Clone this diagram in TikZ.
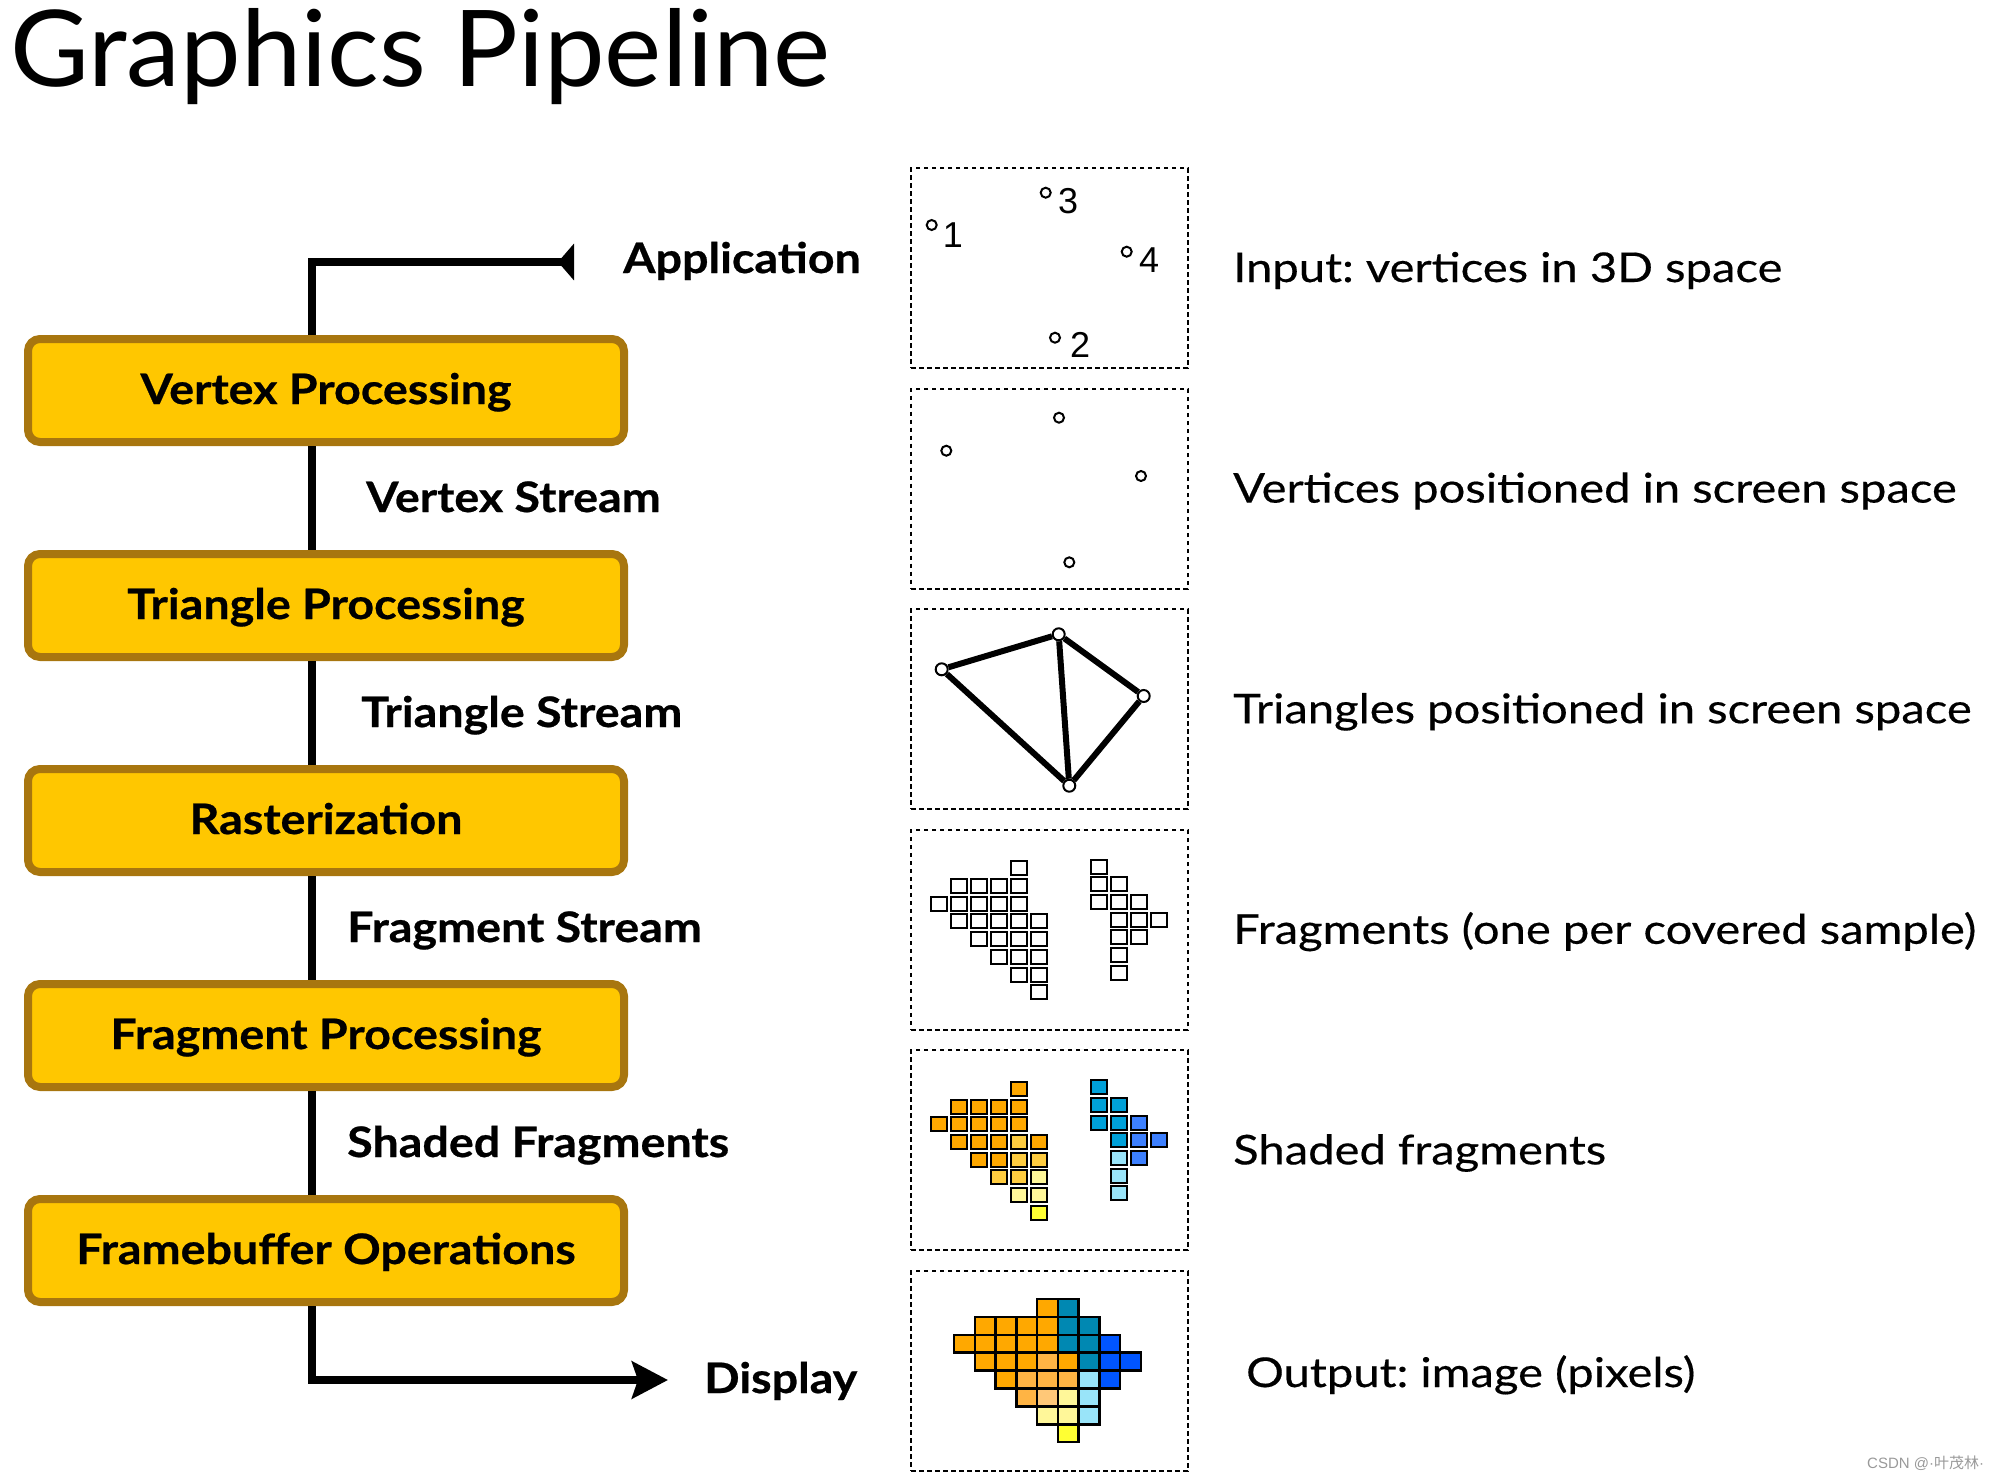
\documentclass[tikz,border=0pt]{standalone}
\usepackage{fontspec}
\setmainfont{Lato}
\newfontfamily\heavyfont{Lato}[FakeStretch=1.11, BoldFeatures={FakeBold=0.6}]
\newfontfamily\descfont{Lato}[FakeStretch=1.15, FakeBold=0.4]
\newfontfamily\titlefont{Lato}[FakeStretch=1.02]
\newfontfamily\digitfont{Liberation Sans}
\newfontfamily\cjkfont{Noto Sans CJK SC}
\usetikzlibrary{arrows.meta}
\frenchspacing
\definecolor{boxfill}{HTML}{FFC700}
\definecolor{boxline}{HTML}{A8760F}
\definecolor{cO}{HTML}{FFA800}
\definecolor{cL}{HTML}{FFCC40}
\definecolor{cP}{HTML}{FFF799}
\definecolor{cY}{HTML}{FFFF33}
\definecolor{cT}{HTML}{00A0D8}
\definecolor{cB}{HTML}{3D80FF}
\definecolor{cC}{HTML}{99E4F9}
\definecolor{oL}{HTML}{FFB444}
\definecolor{oP}{HTML}{FFC878}
\definecolor{oT}{HTML}{0088B2}
\definecolor{oB}{HTML}{0055FF}
\tikzset{
  stage/.style={draw=boxline, fill=boxfill, line width=8pt, rounded corners=12pt,
    minimum width=596pt, minimum height=103pt, inner sep=0pt,
    text height=32pt, text depth=5pt,
    font=\heavyfont\fontsize{42}{50}\selectfont\bfseries},
  lab/.style={inner sep=0pt, anchor=base west, font=\heavyfont\fontsize{42}{50}\selectfont\bfseries},
  desc/.style={inner sep=0pt, anchor=base west, font=\descfont\fontsize{41}{50}\selectfont},
  pipe/.style={line width=8pt, black},
  panel/.style={draw, dash pattern=on 4.5pt off 3.5pt, line width=2pt,
    minimum width=276.5pt, minimum height=200pt, inner sep=0pt},
  pt/.style={line width=2pt},
  digit/.style={inner sep=0pt, font=\digitfont\fontsize{36}{40}\selectfont},
  vtx/.style={circle, draw, fill=white, line width=2pt, minimum size=12pt, inner sep=0pt},
  edge/.style={line width=6pt},
  fcell/.style={line width=2pt, draw=black},
  ocell/.style={line width=2.5pt, draw=black},
}
\begin{document}
\begin{tikzpicture}[x=1pt, y=-1pt]
\useasboundingbox (0,0) rectangle (2003,1481);

% title
\node[anchor=base west, inner sep=0pt, font=\titlefont\fontsize{106}{120}\selectfont] (title) at (10,86) {Graphics Pipeline};

% pipeline stages
\node[stage] (vp) at (326,390.5) {Vertex Processing};
\node[stage] (tp) at (326,605.5) {Triangle Processing};
\node[stage] (ra) at (326,820.5) {Rasterization};
\node[stage] (fp) at (326,1035.5) {Fragment Processing};
\node[stage] (fb) at (326,1250.5) {Framebuffer Operations};

\coordinate (sp) at (311.6,0);
\coordinate (appin) at (574,262);
\coordinate (dispin) at (668,1380);

\draw[pipe, {Triangle[reversed, length=16pt, width=36pt]}-] (appin) -| (vp.north -| sp);
\draw[pipe] (vp.south -| sp) -- (tp.north -| sp);
\draw[pipe] (tp.south -| sp) -- (ra.north -| sp);
\draw[pipe] (ra.south -| sp) -- (fp.north -| sp);
\draw[pipe] (fp.south -| sp) -- (fb.north -| sp);
\draw[pipe, -{Stealth[length=36pt, width=37pt, inset=6pt]}] (fb.south -| sp) |- (dispin);

% stream labels
\node[lab] (lapp) at (623,273) {Application};
\node[lab] (lvs) at (366,512) {Vertex Stream};
\node[lab] (lts) at (361,727) {Triangle Stream};
\node[lab] (lfs) at (347,942) {Fragment Stream};
\node[lab] (lsf) at (347,1157) {Shaded Fragments};
\node[lab] (ldisp) at (704,1393) {Display};

% panels
\node[panel] (p1) at (1049.25,268) {};
\node[panel] (p2) at (1049.25,488.6) {};
\node[panel] (p3) at (1049.25,709.2) {};
\node[panel] (p4) at (1049.25,929.8) {};
\node[panel] (p5) at (1049.25,1150.4) {};
\node[panel] (p6) at (1049.25,1371) {};

% panel 1: vertices with numbers
\draw[pt] (931.7,225) circle (5);
\draw[pt] (1045.7,192.7) circle (5);
\draw[pt] (1126.7,251.7) circle (5);
\draw[pt] (1055,337.7) circle (5);
\node[digit] (n1) at (953,235) {1};
\node[digit] (n3) at (1068,201) {3};
\node[digit] (n4) at (1149,260) {4};
\node[digit] (n2) at (1080,345) {2};

% panel 2: vertices in screen space
\draw[pt] (946.3,450.7) circle (5);
\draw[pt] (1059,417.7) circle (5);
\draw[pt] (1141,476) circle (5);
\draw[pt] (1069.3,562.3) circle (5);

% panel 3: triangles
\node[vtx] (tA) at (941.7,669.3) {};
\node[vtx] (tB) at (1058.7,634.3) {};
\node[vtx] (tC) at (1143.7,696) {};
\node[vtx] (tD) at (1069.3,785.7) {};
\draw[edge] (tA) -- (tB);
\draw[edge] (tA) -- (tD);
\draw[edge] (tB) -- (tD);
\draw[edge] (tB) -- (tC);
\draw[edge] (tC) -- (tD);

% panel 4: fragments
\foreach \c/\r in {4/0, 1/1,2/1,3/1,4/1, 0/2,1/2,2/2,3/2,4/2, 1/3,2/3,3/3,4/3,5/3,
                   2/4,3/4,4/4,5/4, 3/5,4/5,5/5, 4/6,5/6, 5/7}
  \draw[fcell] ({930.5+20*\c},{861.3+17.7*\r}) rectangle ++(16,14);
\foreach \c/\r in {8/0, 8/1,9/1, 8/2,9/2,10/2, 9/3,10/3,11/3, 9/4,10/4, 9/5, 9/6}
  \draw[fcell] ({930.5+20*\c},{859.6+17.7*\r}) rectangle ++(16,14);

% panel 5: shaded fragments
\foreach \c/\r/\col in {4/0/cO, 1/1/cO,2/1/cO,3/1/cO,4/1/cO, 0/2/cO,1/2/cO,2/2/cO,3/2/cO,4/2/cO,
                   1/3/cO,2/3/cO,3/3/cO,4/3/cL,5/3/cO,
                   2/4/cO,3/4/cO,4/4/cL,5/4/cL, 3/5/cL,4/5/cL,5/5/cP, 4/6/cP,5/6/cP, 5/7/cY}
  \draw[fcell, fill=\col] ({930.5+20*\c},{1081.9+17.7*\r}) rectangle ++(16,14);
\foreach \c/\r/\col in {8/0/cT, 8/1/cT,9/1/cT, 8/2/cT,9/2/cT,10/2/cB, 9/3/cT,10/3/cB,11/3/cB,
                   9/4/cC,10/4/cB, 9/5/cC, 9/6/cC}
  \draw[fcell, fill=\col] ({930.5+20*\c},{1080.2+17.7*\r}) rectangle ++(16,14);

% panel 6: output image
\foreach \c/\r/\col in {4/0/cO,5/0/oT,
                   1/1/cO,2/1/cO,3/1/cO,4/1/cO,5/1/oT,6/1/oT,
                   0/2/cO,1/2/cO,2/2/cO,3/2/cO,4/2/cO,5/2/oT,6/2/oT,7/2/oB,
                   1/3/cO,2/3/cO,3/3/cO,4/3/oL,5/3/cO,6/3/oT,7/3/oB,8/3/oB,
                   2/4/cO,3/4/oL,4/4/oL,5/4/oL,6/4/cC,7/4/oB,
                   3/5/oL,4/5/oP,5/5/cP,6/5/cC,
                   4/6/cP,5/6/cP,6/6/cC,
                   5/7/cY}
  \draw[ocell, fill=\col] ({954+20.75*\c},{1299+17.9*\r}) rectangle ++(20.75,17.9);

% descriptions
\node[desc] (d1) at (1233,282) {Input: vertices in 3D space};
\node[desc] (d2) at (1233,502.6) {Vertices positioned in screen space};
\node[desc] (d3) at (1233,723.2) {Triangles positioned in screen space};
\node[desc] (d4) at (1233,943.8) {Fragments (one per covered sample)};
\node[desc] (d5) at (1233,1164.4) {Shaded fragments};
\node[desc] (d6) at (1246,1387) {Output: image (pixels)};

% watermark
\node[anchor=west, inner sep=0pt, text=gray!80, font=\digitfont\fontsize{15}{18}\selectfont] (wm) at (1867,1463) {CSDN @·{\cjkfont 叶茂林}·};
\end{tikzpicture}
\end{document}
